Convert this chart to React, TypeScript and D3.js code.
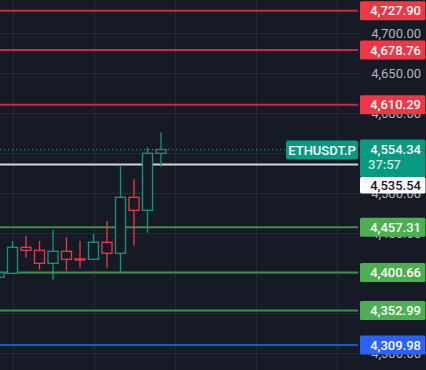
import * as d3 from 'd3'

// candles, oldest first (first one is cut off by the left edge)
const opens = [4394.6, 4399.6, 4432.1, 4428.4, 4412.1, 4427.1, 4417.6, 4417.1, 4438.4, 4424.6, 4494.6, 4478.4, 4549.6]
const highs = [4401.5, 4440.0, 4446.3, 4440.0, 4453.8, 4445.0, 4440.0, 4448.8, 4465.0, 4535.0, 4517.1, 4557.1, 4575.9]
const lows = [4393.0, 4399.0, 4419.1, 4404.1, 4391.6, 4402.9, 4406.6, 4416.5, 4406.6, 4401.6, 4434.1, 4450.4, 4532.9]
const closes = [4400.4, 4432.1, 4428.4, 4412.1, 4427.1, 4417.1, 4416.6, 4438.4, 4424.6, 4494.6, 4478.4, 4549.6, 4554.34]

// horizontal levels drawn on the chart
const levelPrices = [4727.9, 4678.76, 4610.29, 4535.54, 4457.31, 4400.66, 4352.99, 4309.98]
const levelKinds = ['res', 'res', 'res', 'white', 'sup', 'sup', 'sup', 'blue']

const axisTicks = [4300, 4350, 4400, 4450, 4500, 4550, 4600, 4650, 4700]
const gridBars = [1, 7, 13, 19, 25]

const symbol = 'ETHUSDT.P'
const lastPrice = 4554.34
const countdown = '37:57'

const W = 426
const H = 370
const plotRight = 360
const FONT = 'Roboto, "Noto Sans", sans-serif'

const BG = '#161a25'
const UP = '#089981'
const DOWN = '#f23645'
const kindColor: Record<string, string> = {
  res: '#f23645',
  white: '#d1d4dc',
  sup: '#4caf50',
  blue: '#2962ff',
}

export default function App() {
  const y = d3.scaleLinear().domain([4300, 4700]).range([353, 33])
  const x = d3.scaleLinear().domain([0, 12]).range([-1.0, 161.0])
  const fmt = d3.format(',.2f')
  const bodyW = 10

  const candles = opens.map((o, i) => ({ o, h: highs[i], l: lows[i], c: closes[i], i }))
  const lastY = y(lastPrice)

  // current price box, then the white level label gets pushed below it
  const curTop = lastY - 10
  const curBottom = curTop + 37.5

  return (
    <div style={{ position: 'fixed', left: 0, top: 0, width: W, height: H }}>
      <svg width={W} height={H} style={{ display: 'block' }}>
        <rect width={W} height={H} fill={BG} />

        {/* grid */}
        {axisTicks.map((t) => (
          <line key={'h' + t} x1={0} x2={plotRight} y1={Math.round(y(t)) + 0.5} y2={Math.round(y(t)) + 0.5} stroke="#262a35" />
        ))}
        {gridBars.map((b) => (
          <line key={'v' + b} x1={Math.round(x(b)) + 0.5} x2={Math.round(x(b)) + 0.5} y1={0} y2={H} stroke="#262a35" />
        ))}

        {/* level lines */}
        {levelPrices.map((p, i) => (
          <line
            key={'l' + p}
            x1={0}
            x2={plotRight - 2}
            y1={y(p)}
            y2={y(p)}
            stroke={kindColor[levelKinds[i]]}
            strokeOpacity={levelKinds[i] === 'white' ? 1 : 0.78}
            strokeWidth={2}
          />
        ))}

        {/* last price dotted line */}
        <line x1={0} x2={286} y1={lastY} y2={lastY} stroke={UP} strokeWidth={1.2} strokeDasharray="1.2 2.8" />

        {/* candles */}
        {candles.map((d) => {
          const col = d.c >= d.o ? UP : DOWN
          const cx = x(d.i)
          const top = y(Math.max(d.o, d.c))
          const bot = y(Math.min(d.o, d.c))
          return (
            <g key={'c' + d.i}>
              <line x1={cx} x2={cx} y1={y(d.h)} y2={y(d.l)} stroke={col} strokeWidth={1.3} />
              <rect
                x={cx - bodyW / 2}
                y={top}
                width={bodyW}
                height={Math.max(bot - top, 1)}
                fill={BG}
                stroke={col}
                strokeWidth={1.3}
              />
            </g>
          )
        })}

        {/* price axis tick labels (mostly hidden behind the level labels, as in the app) */}
        {axisTicks.map((t) => (
          <text key={'t' + t} x={421} y={y(t)} dy="0.36em" textAnchor="end" fill="#b2b5be" fontSize={13} fontFamily={FONT}>
            {fmt(t)}
          </text>
        ))}

        {/* level labels */}
        {levelPrices.map((p, i) => {
          const kind = levelKinds[i]
          let top = y(p) - 9.5
          let h = 19
          if (kind === 'white') {
            top = curBottom
            h = 16.5
          }
          return (
            <g key={'lb' + p}>
              <rect x={plotRight} y={top} width={W - plotRight - 0.5} height={h} rx={1.5} fill={kind === 'white' ? '#ffffff' : kindColor[kind]} />
              <text
                x={421}
                y={top + h / 2}
                dy="0.36em"
                textAnchor="end"
                fill={kind === 'white' ? '#131722' : '#ffffff'}
                fontSize={13}
                fontFamily={FONT}
                fontWeight={500}
              >
                {fmt(p)}
              </text>
            </g>
          )
        })}

        {/* current price + countdown */}
        <rect x={plotRight} y={curTop} width={W - plotRight - 0.5} height={curBottom - curTop} rx={1.5} fill={UP} />
        <text x={421} y={lastY} dy="0.36em" textAnchor="end" fill="#ffffff" fontSize={13} fontFamily={FONT} fontWeight={500}>
          {fmt(lastPrice)}
        </text>
        <text x={368} y={lastY + 15} dy="0.36em" textAnchor="start" fill="#c6ece4" fontSize={13} fontFamily={FONT} fontWeight={500}>
          {countdown}
        </text>

        {/* symbol tag */}
        <rect x={286} y={lastY - 9} width={72} height={19} rx={2} fill={UP} />
        <text x={322} y={lastY + 0.5} dy="0.36em" textAnchor="middle" fill="#ffffff" fontSize={13} fontFamily={FONT} fontWeight={500}>
          {symbol}
        </text>
      </svg>
    </div>
  )
}
